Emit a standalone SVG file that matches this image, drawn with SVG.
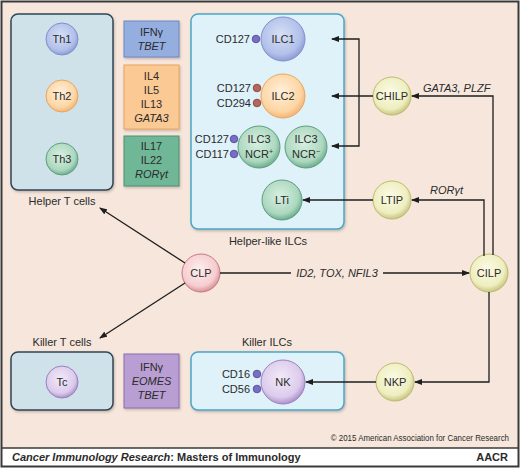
<svg xmlns="http://www.w3.org/2000/svg" width="520" height="468" viewBox="0 0 520 468">
<defs>
<style>
text{font-family:"Liberation Sans","DejaVu Sans",sans-serif;font-size:11px;fill:#2b2b2b}
.c{text-anchor:middle}
.e{text-anchor:end}
.i{font-style:italic}
.ln{fill:none;stroke:#1e1e1e;stroke-width:1.3}
.tbox{fill:#cfe2ea;stroke:#2f4656;stroke-width:1.5}
.ibox{fill:#dff1f9;stroke:#4aa6c6;stroke-width:1.5}
.dp{fill:#7a6ec4;stroke:#4c4290;stroke-width:0.8}
.dr{fill:#b5655e;stroke:#7d3b36;stroke-width:0.8}
</style>
<radialGradient id="gB" cx="45%" cy="40%" r="60%"><stop offset="0" stop-color="#d7e0f6"/><stop offset="0.75" stop-color="#b2c0ea"/><stop offset="1" stop-color="#8d9dd6"/></radialGradient>
<radialGradient id="gO" cx="45%" cy="40%" r="60%"><stop offset="0" stop-color="#fff0dc"/><stop offset="0.75" stop-color="#fdd6a4"/><stop offset="1" stop-color="#f3b577"/></radialGradient>
<radialGradient id="gG" cx="45%" cy="40%" r="60%"><stop offset="0" stop-color="#d8efe2"/><stop offset="0.75" stop-color="#acd8bf"/><stop offset="1" stop-color="#6fae8f"/></radialGradient>
<radialGradient id="gY" cx="45%" cy="40%" r="60%"><stop offset="0" stop-color="#fbfbe6"/><stop offset="0.75" stop-color="#eeeebf"/><stop offset="1" stop-color="#c9c684"/></radialGradient>
<radialGradient id="gP" cx="45%" cy="40%" r="60%"><stop offset="0" stop-color="#fdeeee"/><stop offset="0.75" stop-color="#f6cdd0"/><stop offset="1" stop-color="#d8939a"/></radialGradient>
<radialGradient id="gV" cx="45%" cy="40%" r="60%"><stop offset="0" stop-color="#f2eaf8"/><stop offset="0.75" stop-color="#dccbec"/><stop offset="1" stop-color="#ae92cc"/></radialGradient>
<filter id="sh" x="-20%" y="-20%" width="140%" height="140%"><feDropShadow dx="1" dy="1.5" stdDeviation="1.2" flood-color="#6b5a50" flood-opacity="0.35"/></filter>
<marker id="ar" markerWidth="8" markerHeight="6" refX="7" refY="3" orient="auto" markerUnits="userSpaceOnUse"><path d="M0,0 L8,3 L0,6 Z" fill="#1e1e1e"/></marker>
</defs>

<rect x="0" y="0" width="520" height="468" fill="#ffffff"/>
<rect x="2" y="2" width="516" height="446" fill="#f6e6dc"/>
<rect x="2" y="448" width="516" height="18" fill="#ffffff"/>
<line x1="2" y1="448" x2="518" y2="448" stroke="#3a3a3a" stroke-width="1.5"/>
<rect x="1.5" y="1.5" width="517" height="465" fill="none" stroke="#3a3a3a" stroke-width="2"/>

<!-- Helper T cells -->
<g id="helperT">
<rect class="tbox" x="11" y="14" width="102" height="176" rx="7" filter="url(#sh)"/>
<text class="c" x="62" y="205">Helper T cells</text>
</g>
<g id="Th1"><circle cx="62" cy="39" r="16" fill="url(#gB)" stroke="#7f90cc" stroke-width="1"/><text class="c" x="62" y="43">Th1</text></g>
<g id="Th2"><circle cx="62" cy="96" r="16" fill="url(#gO)" stroke="#e8a660" stroke-width="1"/><text class="c" x="62" y="100">Th2</text></g>
<g id="Th3"><circle cx="62" cy="159" r="16" fill="url(#gG)" stroke="#5f9f80" stroke-width="1"/><text class="c" x="62" y="163">Th3</text></g>

<g id="boxTh1"><rect x="124" y="21" width="55" height="36" fill="#95aee0" stroke="#6f86c0" stroke-width="1" filter="url(#sh)"/>
<text class="c" x="151.5" y="36">IFNγ</text><text class="c i" x="151.5" y="50">TBET</text></g>
<g id="boxTh2"><rect x="124" y="65" width="55" height="64" fill="#fbc994" stroke="#e9a35e" stroke-width="1" filter="url(#sh)"/>
<text class="c" x="151.5" y="80">IL4</text><text class="c" x="151.5" y="94">IL5</text><text class="c" x="151.5" y="108">IL13</text><text class="c i" x="151.5" y="122">GATA3</text></g>
<g id="boxTh3"><rect x="124" y="136" width="55" height="50" fill="#70b798" stroke="#4f8f72" stroke-width="1" filter="url(#sh)"/>
<text class="c" x="151.5" y="150">IL17</text><text class="c" x="151.5" y="164">IL22</text><text class="c i" x="151.5" y="178">RORγt</text></g>

<!-- Helper-like ILCs -->
<g id="helperILC">
<rect class="ibox" x="191" y="14" width="153" height="215" rx="7" filter="url(#sh)"/>
<text class="c" x="268" y="245">Helper-like ILCs</text>
</g>
<g id="ILC1"><circle cx="283" cy="39" r="22" fill="url(#gB)" stroke="#7f90cc" stroke-width="1"/><text class="c" x="283" y="43">ILC1</text>
<circle class="dp" cx="256" cy="39" r="3.8"/><text class="e" x="250" y="43">CD127</text></g>
<g id="ILC2"><circle cx="283" cy="96" r="22" fill="url(#gO)" stroke="#e8a660" stroke-width="1"/><text class="c" x="283" y="100">ILC2</text>
<circle class="dr" cx="257" cy="88" r="3.8"/><circle class="dr" cx="257" cy="103" r="3.8"/>
<text class="e" x="251" y="92">CD127</text><text class="e" x="251" y="107">CD294</text></g>
<g id="ILC3p"><circle cx="259" cy="147" r="21" fill="url(#gG)" stroke="#5f9f80" stroke-width="1"/>
<text class="c" x="259" y="143">ILC3</text><text class="c" x="259" y="158">NCR<tspan dy="-4" font-size="7">+</tspan></text>
<circle class="dp" cx="234" cy="139" r="3.8"/><circle class="dp" cx="234" cy="154" r="3.8"/>
<text class="e" x="229" y="143">CD127</text><text class="e" x="229" y="158">CD117</text></g>
<g id="ILC3n"><circle cx="306" cy="147" r="21" fill="url(#gG)" stroke="#5f9f80" stroke-width="1"/>
<text class="c" x="306" y="143">ILC3</text><text class="c" x="306" y="158">NCR<tspan dy="-4" font-size="7">−</tspan></text></g>
<g id="LTi"><circle cx="282" cy="200" r="20" fill="url(#gG)" stroke="#5f9f80" stroke-width="1"/><text class="c" x="282" y="204">LTi</text></g>

<!-- Killer T cells -->
<g id="killerT">
<text class="c" x="62" y="346">Killer T cells</text>
<rect class="tbox" x="11" y="352" width="102" height="58" rx="7" filter="url(#sh)"/>
</g>
<g id="Tc"><circle cx="62" cy="382" r="16" fill="url(#gV)" stroke="#9a7fbd" stroke-width="1"/><text class="c" x="62" y="386">Tc</text></g>
<g id="boxTc"><rect x="124" y="354" width="55" height="54" fill="#b89ed2" stroke="#8b6fae" stroke-width="1" filter="url(#sh)"/>
<text class="c" x="151.5" y="371">IFNγ</text><text class="c i" x="151.5" y="385">EOMES</text><text class="c i" x="151.5" y="399">TBET</text></g>

<!-- Killer ILCs -->
<g id="killerILC">
<text class="c" x="267" y="346">Killer ILCs</text>
<rect class="ibox" x="191" y="352" width="153" height="58" rx="7" filter="url(#sh)"/>
</g>
<g id="NK"><circle cx="283" cy="382" r="22" fill="url(#gV)" stroke="#9a7fbd" stroke-width="1"/><text class="c" x="283" y="386">NK</text>
<circle class="dp" cx="257" cy="374" r="3.8"/><circle class="dp" cx="257" cy="389" r="3.8"/>
<text class="e" x="250" y="378">CD16</text><text class="e" x="250" y="393">CD56</text></g>

<!-- progenitors -->
<g id="CHILP"><circle cx="392" cy="96" r="19" fill="url(#gY)" stroke="#bdb96e" stroke-width="1"/><text class="c" x="392" y="100">CHILP</text></g>
<g id="LTIP"><circle cx="392" cy="200" r="19" fill="url(#gY)" stroke="#bdb96e" stroke-width="1"/><text class="c" x="392" y="204">LTIP</text></g>
<g id="CILP"><circle cx="489" cy="273" r="19" fill="url(#gY)" stroke="#bdb96e" stroke-width="1"/><text class="c" x="489" y="277">CILP</text></g>
<g id="NKP"><circle cx="395" cy="382" r="19" fill="url(#gY)" stroke="#bdb96e" stroke-width="1"/><text class="c" x="395" y="386">NKP</text></g>
<g id="CLP"><circle cx="201" cy="273" r="19" fill="url(#gP)" stroke="#c57a82" stroke-width="1"/><text class="c" x="201" y="277">CLP</text></g>

<!-- connectors -->
<g id="connectors">
<line class="ln" x1="373" y1="96" x2="332" y2="96" marker-end="url(#ar)"/>
<polyline class="ln" points="359,96 359,39 332,39" marker-end="url(#ar)"/>
<polyline class="ln" points="359,96 359,146 332,146" marker-end="url(#ar)"/>
<polyline class="ln" points="493,255 493,96 412,96" marker-end="url(#ar)"/>
<polyline class="ln" points="484,256 484,200 412,200" marker-end="url(#ar)"/>
<line class="ln" x1="373" y1="200" x2="303" y2="200" marker-end="url(#ar)"/>
<line class="ln" x1="220" y1="273" x2="291" y2="273"/>
<line class="ln" x1="383" y1="273" x2="469" y2="273" marker-end="url(#ar)"/>
<polyline class="ln" points="489,292 489,382 415,382" marker-end="url(#ar)"/>
<line class="ln" x1="376" y1="382" x2="306" y2="382" marker-end="url(#ar)"/>
<line class="ln" x1="185" y1="263" x2="100" y2="208" marker-end="url(#ar)"/>
<line class="ln" x1="185" y1="283" x2="100" y2="338" marker-end="url(#ar)"/>
</g>

<g id="labels">
<text class="c i" x="337" y="277">ID2, TOX, NFIL3</text>
<text class="i" x="423" y="92">GATA3, PLZF</text>
<text class="i" x="430" y="194">RORγt</text>
<text class="e" transform="translate(509,441) scale(0.72,0.85)" x="0" y="0" font-size="10" fill="#555">© 2015 American Association for Cancer Research</text>
<text x="12" y="461" font-size="11" font-weight="bold" fill="#1a1a1a"><tspan font-style="italic">Cancer Immunology Research</tspan>: Masters of Immunology</text>
<text class="e" x="508" y="461" font-size="12" font-weight="bold" fill="#1a1a1a">AACR</text>
</g>
</svg>
